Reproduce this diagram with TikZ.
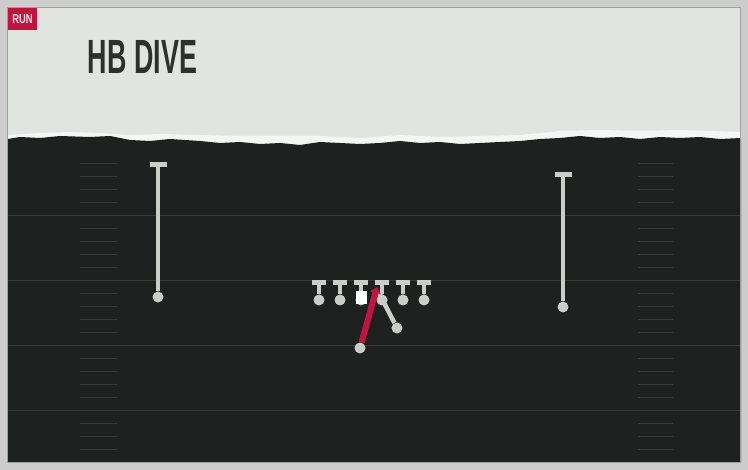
\documentclass[tikz,border=0pt]{standalone}
\usepackage{fontspec}
\setsansfont{Liberation Sans}
\usetikzlibrary{positioning,arrows.meta}
\definecolor{field}{HTML}{1E211F}
\definecolor{paper}{HTML}{E2E4E2}
\definecolor{chalk}{HTML}{CBCDCB}
\definecolor{runred}{HTML}{C3143F}
\definecolor{hashgray}{HTML}{363A37}
\definecolor{inkgray}{HTML}{2E302E}

\begin{document}
\begin{tikzpicture}[x=1pt,y=-1pt,node distance=21pt,on grid]
\tikzset{dot/.style={circle,fill=chalk,inner sep=0pt,minimum size=11pt},
  route/.style={draw=chalk,line width=4.5pt},
  tbar/.style={draw=chalk,line width=5pt},
  hash/.style={draw=hashgray,line width=1pt}}
\useasboundingbox (0,0) rectangle (748,470);
% frame and paper
\fill[gray!40] (0,0) rectangle (748,470);
\fill[paper] (8,8) rectangle (741,462);
% torn edge of the paper, field below it
\fill[white!92!gray] (8,135) -- (40,133) -- (70,132) -- (100,133) -- (130,135) -- (160,134)
  -- (200,135) -- (240,136) -- (280,136) -- (320,136) -- (360,138) -- (400,135) -- (440,137)
  -- (480,136) -- (520,135) -- (560,131) -- (600,130) -- (640,131) -- (680,130) -- (741,132)
  -- (741,145) -- (8,145) -- cycle;
\fill[field] (8,462) -- (8,139) -- (20,137) -- (40,138) -- (60,136) -- (90,137) -- (110,136)
  -- (130,140) -- (150,141) -- (170,139) -- (200,141) -- (220,143) -- (240,142) -- (260,144)
  -- (280,143) -- (300,145) -- (320,142) -- (340,143) -- (360,144) -- (380,143) -- (400,141)
  -- (420,143) -- (440,142) -- (460,144) -- (480,143) -- (500,142) -- (520,141) -- (540,139)
  -- (560,138) -- (580,136) -- (600,138) -- (620,137) -- (640,139) -- (660,137) -- (680,138)
  -- (700,137) -- (720,139) -- (741,138) -- (741,462) -- cycle;
% yard lines and hash marks
\foreach \y in {216,281,346,411}
  \draw[hash] (8,\y) -- (741,\y);
\foreach \y in {164,177,190,203,229,242,255,268,294,307,320,333,359,372,385,398,424,437,450}{
  \draw[hash] (80,\y) -- (117,\y);
  \draw[hash] (638,\y) -- (673,\y);
}
\draw[gray!75,line width=1pt] (7.5,7.5) rectangle (740.5,462.5);
% labels
\fill[runred] (8,8) rectangle (37,30);
\node[text=red!10!white,font=\sffamily\bfseries\fontsize{13}{13}\selectfont,xscale=.72,inner sep=0pt] (run) at (22.5,19.5) {RUN};
\node[text=inkgray,font=\sffamily\bfseries\fontsize{48}{48}\selectfont,xscale=.56,inner sep=0pt,anchor=base] (title) at (142.5,74) {HB DIVE};
% receivers
\node[dot] (wrl) at (158,297) {};
\coordinate (wrltop) at (158,164.5);
\draw[route] (wrl) -- (wrltop);
\draw[tbar] ([xshift=-8.5pt]wrltop) -- ([xshift=8.5pt]wrltop);
\node[dot] (wrr) at (563,307) {};
\coordinate (wrrtop) at (563,175);
\draw[route] (wrr) -- (wrrtop);
\draw[tbar] ([xshift=-8.5pt]wrrtop) -- ([xshift=8.5pt]wrrtop);
% line
\node[dot] (c) at (361,300) {};
\node[dot] (lg) [left=of c] {};
\node[dot] (lt) [left=of lg] {};
\node[dot] (rg) [right=of c] {};
\node[dot] (rt) [right=of rg] {};
\node[dot] (te) [right=of rt] {};
\foreach \p in {lt,lg,c,rg,rt,te}{
  \coordinate (\p top) at ([yshift=17pt]\p.center);
  \draw[route] (\p) -- (\p top);
  \draw[tbar] ([xshift=-7pt]\p top) -- ([xshift=7pt]\p top);
}
% backs
\node[fill=white,inner sep=0pt,minimum width=11pt,minimum height=13pt] (qb) at (361,298) {};
\node[dot] (fb) at (397,328) {};
\coordinate (fbend) at (379,293);
\draw[route] (fb) -- (fbend);
\node[dot] (hb) at (360,348) {};
\coordinate (hbend) at (377,287);
\draw[draw=runred,line width=6pt,-{Triangle[width=11pt,length=6pt]}] (hb) -- (hbend);
\end{tikzpicture}
\end{document}
